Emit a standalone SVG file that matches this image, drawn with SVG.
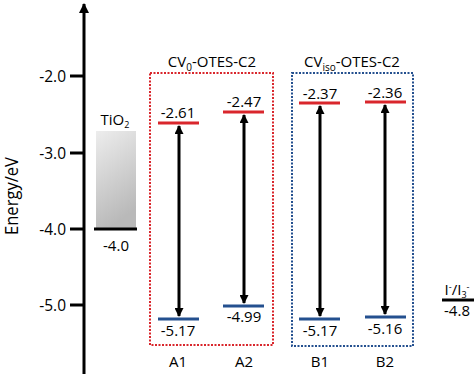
<svg xmlns="http://www.w3.org/2000/svg" width="474" height="379" viewBox="0 0 474 379">
<defs>
<linearGradient id="tio2" x1="0" y1="0" x2="0.3" y2="1">
<stop offset="0" stop-color="#ededed"/>
<stop offset="1" stop-color="#b9b9b9"/>
</linearGradient>
<marker id="ah" viewBox="0 0 10 10" refX="9" refY="5" markerWidth="10" markerHeight="9" markerUnits="userSpaceOnUse" orient="auto-start-reverse">
<path d="M0,0 L10,5 L0,10 Z" fill="#000"/>
</marker>
<marker id="axh" viewBox="0 0 10 10" refX="9" refY="5" markerWidth="10" markerHeight="10" markerUnits="userSpaceOnUse" orient="auto">
<path d="M0,0 L10,5 L0,10 Z" fill="#000"/>
</marker>
</defs>
<style>
text{font-family:"Open Sans","DejaVu Sans",sans-serif;fill:#000}
.v{font-size:15px;text-anchor:middle}
.t{font-size:15.5px;text-anchor:end}
.ttl{font-size:15px;text-anchor:middle}
.red{stroke:#d9262c;stroke-width:3}
.blue{stroke:#24508f;stroke-width:3}
.arr{stroke:#000;stroke-width:3;fill:none}
.box{fill:none;stroke-width:2;stroke-dasharray:2 1.5}
</style>
<g id="axis">
<line x1="84" y1="374" x2="84" y2="4" stroke="#000" stroke-width="3" marker-end="url(#axh)"/>
<line x1="70" y1="76" x2="84" y2="76" stroke="#000" stroke-width="3"/>
<line x1="70" y1="153" x2="84" y2="153" stroke="#000" stroke-width="3"/>
<line x1="70" y1="229" x2="84" y2="229" stroke="#000" stroke-width="3"/>
<line x1="70" y1="305" x2="84" y2="305" stroke="#000" stroke-width="3"/>
<text class="t" x="66" y="82">-2.0</text>
<text class="t" x="66" y="159">-3.0</text>
<text class="t" x="66" y="235">-4.0</text>
<text class="t" x="66" y="311">-5.0</text>
<text x="18" y="196" font-size="18" text-anchor="middle" textLength="78" lengthAdjust="spacingAndGlyphs" transform="rotate(-90 18 196)">Energy/eV</text>
</g>
<g id="tio2-node">
<rect x="96" y="131" width="40" height="98" fill="url(#tio2)"/>
<line x1="94" y1="229" x2="137" y2="229" stroke="#000" stroke-width="3"/>
<text class="v" x="115" y="125" font-size="13">TiO<tspan font-size="9" dy="3">2</tspan></text>
<text class="v" x="116" y="251">-4.0</text>
</g>
<g id="groupA">
<rect class="box" x="150" y="73" width="123" height="272" stroke="#d9262c"/>
<text class="ttl" x="212" y="67">CV<tspan font-size="10" dy="4">0</tspan><tspan dy="-4">-OTES-C2</tspan></text>
</g>
<g id="groupB">
<rect class="box" x="292" y="73" width="121" height="273" stroke="#24508f"/>
<text class="ttl" x="352" y="67">CV<tspan font-size="10" dy="4">iso</tspan><tspan dy="-4">-OTES-C2</tspan></text>
</g>
<g id="A1">
<line class="red" x1="158" y1="123" x2="199" y2="123"/>
<line class="blue" x1="158" y1="319" x2="199" y2="319"/>
<text class="v" x="178" y="118">-2.61</text>
<text class="v" x="178" y="336">-5.17</text>
<text class="v" x="178" y="367">A1</text>
</g>
<g id="A2">
<line class="red" x1="223" y1="112" x2="264" y2="112"/>
<line class="blue" x1="223" y1="306" x2="264" y2="306"/>
<text class="v" x="244" y="107">-2.47</text>
<text class="v" x="244" y="322">-4.99</text>
<text class="v" x="244" y="367">A2</text>
</g>
<g id="B1">
<line class="red" x1="299" y1="103" x2="340" y2="103"/>
<line class="blue" x1="299" y1="319" x2="340" y2="319"/>
<text class="v" x="320" y="99">-2.37</text>
<text class="v" x="320" y="336">-5.17</text>
<text class="v" x="320" y="367">B1</text>
</g>
<g id="B2">
<line class="red" x1="365" y1="102" x2="406" y2="102"/>
<line class="blue" x1="365" y1="317" x2="406" y2="317"/>
<text class="v" x="385" y="98">-2.36</text>
<text class="v" x="385" y="334">-5.16</text>
<text class="v" x="385" y="367">B2</text>
</g>
<g id="redox">
<line x1="442" y1="300" x2="474" y2="300" stroke="#000" stroke-width="3"/>
<text class="v" x="457" y="295" font-size="13">I<tspan font-size="9" dy="-5">-</tspan><tspan dy="5">/I</tspan><tspan font-size="9" dy="3">3</tspan><tspan font-size="9" dy="-8">-</tspan></text>
<text class="v" x="457" y="316">-4.8</text>
</g>
<g id="connectors">
<line class="arr" x1="179" y1="126" x2="179" y2="316" marker-start="url(#ah)" marker-end="url(#ah)"/>
<line class="arr" x1="244" y1="115" x2="244" y2="303" marker-start="url(#ah)" marker-end="url(#ah)"/>
<line class="arr" x1="320" y1="106" x2="320" y2="316" marker-start="url(#ah)" marker-end="url(#ah)"/>
<line class="arr" x1="385" y1="105" x2="385" y2="314" marker-start="url(#ah)" marker-end="url(#ah)"/>
</g>
</svg>
